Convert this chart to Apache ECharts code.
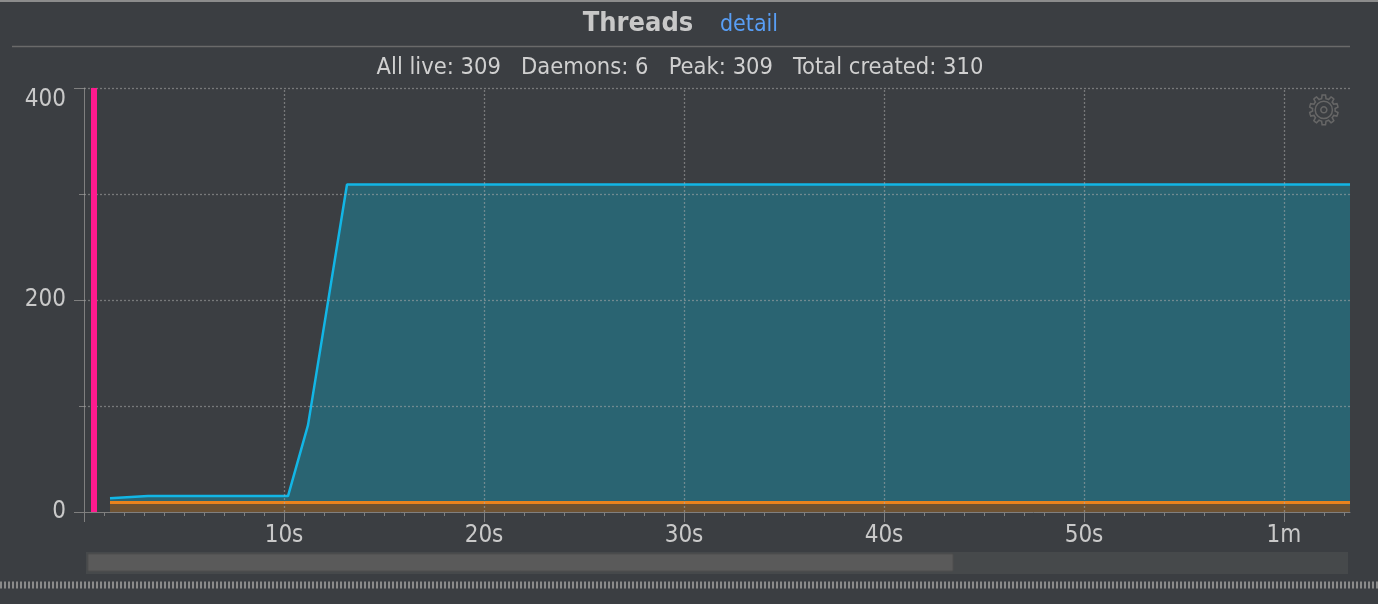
<!DOCTYPE html>
<html>
<head>
<meta charset="utf-8">
<script src="https://cdn.jsdelivr.net/npm/echarts@6/dist/echarts.min.js"></script>
<style>
html,body{margin:0;padding:0;background:#3b3e42;}
#chart{width:1378px;height:604px;}
</style>
</head>
<body>
<div id="chart"></div>
<script>
// ---- data ----
const liveTimes = [1.3, 3.2, 10.2, 11.2, 13.15, 63.3];   // seconds
const liveThreads = [13, 15, 15, 82, 309, 309];
const daemonTimes = [1.3, 63.3];
const daemonThreads = [9, 9];
const markerTime = 0.5;
const xMax = 63.3;
const xLabelValues = [10, 20, 30, 40, 50, 60];
const xLabelNames = ['10s', '20s', '30s', '40s', '50s', '1m'];
const xMinorTicks = Array.from({length: 64}, (_, i) => i);
const xMajorTicks = [0, 10, 20, 30, 40, 50, 60];
const yGridValues = [100, 200, 300, 400];
const titleText = 'Threads';
const linkText = 'detail';
const statsText = 'All live: 309   Daemons: 6   Peak: 309   Total created: 310';

const FONT = 'DejaVu Sans Condensed';
const chart = echarts.init(document.getElementById('chart'), null, {renderer: 'canvas'});

const livePairs = liveTimes.map((t, i) => [t, liveThreads[i]]);
const daemonPairs = daemonTimes.map((t, i) => [t, daemonThreads[i]]);
const labelMap = {};
xLabelValues.forEach((v, i) => labelMap[v] = xLabelNames[i]);

const axisColor = '#7f7f7f';
const gridLineStyle = {color: 'rgba(170,170,170,0.55)', width: 1.3, type: [2, 2]};

const option = {
  backgroundColor: '#3b3e42',
  animation: false,
  grid: {left: 84, right: 28, top: 88, bottom: 92, containLabel: false},
  xAxis: [{
    type: 'value', min: 0, max: xMax,
    axisLine: {show: true, lineStyle: {color: axisColor, width: 1}},
    axisTick: {show: true, length: 4, customValues: xMinorTicks, lineStyle: {color: axisColor, width: 1}},
    axisLabel: {show: true, customValues: xLabelValues, formatter: v => labelMap[Math.round(v)] || '',
      color: '#c9c9c9', fontFamily: FONT, fontSize: 24, margin: 12},
    splitLine: {show: false}
  }, {
    type: 'value', min: 0, max: xMax, position: 'bottom',
    axisLine: {show: false},
    axisTick: {show: true, length: 10, customValues: xMajorTicks, lineStyle: {color: axisColor, width: 1}},
    axisLabel: {show: false},
    splitLine: {show: false}
  }],
  yAxis: [{
    type: 'value', min: 0, max: 400, interval: 100, offset: 2,
    axisLine: {show: true, lineStyle: {color: axisColor, width: 1}},
    axisTick: {show: true, length: 5, lineStyle: {color: axisColor, width: 1}},
    axisLabel: {show: false},
    splitLine: {show: false}
  }, {
    type: 'value', min: 0, max: 400, interval: 200, offset: 2, position: 'left',
    axisLine: {show: false},
    axisTick: {show: true, length: 10, lineStyle: {color: axisColor, width: 1}},
    axisLabel: {color: '#c9c9c9', fontFamily: FONT, fontSize: 24, margin: 16,
      verticalAlignMaxLabel: 'top'},
    splitLine: {show: false}
  }],
  series: [{
    name: 'All live', type: 'line', data: livePairs, symbol: 'none', z: 2,
    lineStyle: {color: '#12b6e6', width: 2.5},
    areaStyle: {color: '#2a6472', opacity: 1}
  }, {
    name: 'Daemons', type: 'line', data: daemonPairs, symbol: 'none', z: 3,
    lineStyle: {color: '#ea831d', width: 3},
    areaStyle: {color: '#6e5232', opacity: 1}
  }, {
    name: 'grid', type: 'line', data: [], z: 5, silent: true,
    markLine: {
      silent: true, symbol: 'none', label: {show: false},
      lineStyle: gridLineStyle,
      data: xLabelValues.map(v => ({xAxis: v})).concat(yGridValues.map(v => ({yAxis: v})))
    }
  }, {
    name: 'marker', type: 'line', data: [], z: 6, silent: true,
    markLine: {
      silent: true, symbol: 'none', label: {show: false},
      lineStyle: {color: '#ff1a8e', width: 6, type: 'solid'},
      data: [{xAxis: markerTime}]
    }
  }],
  graphic: [
    {type: 'line', shape: {x1: 0, y1: 1, x2: 1378, y2: 1}, style: {stroke: '#8c8c8c', lineWidth: 2}, silent: true},
    {type: 'text', x: 638, y: 24, style: {text: titleText, font: 'bold 27px "DejaVu Sans Condensed"', fill: '#c8c8c8', textAlign: 'center', textVerticalAlign: 'middle'}},
    {type: 'text', x: 749, y: 25, style: {text: linkText, font: '23px "DejaVu Sans Condensed"', fill: '#589ef5', textAlign: 'center', textVerticalAlign: 'middle'}},
    {type: 'line', shape: {x1: 12, y1: 46.5, x2: 1350, y2: 46.5}, style: {stroke: '#6a6a6a', lineWidth: 1.5}, silent: true},
    {type: 'text', x: 680, y: 68, style: {text: statsText, font: '23.5px "DejaVu Sans Condensed"', fill: '#d0d0d0', textAlign: 'center', textVerticalAlign: 'middle'}},
    {type: 'text', x: 1324, y: 114, style: {text: '\u2699', font: '40px "DejaVu Sans"', fill: 'rgba(0,0,0,0)', stroke: '#666666', lineWidth: 1.5, textAlign: 'center', textVerticalAlign: 'middle'}},
    {type: 'rect', shape: {x: 86, y: 552, width: 1262, height: 22}, style: {fill: '#46494b'}},
    {type: 'rect', shape: {x: 88, y: 554, width: 865, height: 17, r: 1}, style: {fill: '#5a5a5a', stroke: '#4f4f4f', lineWidth: 1}},
    {type: 'line', shape: {x1: 0, y1: 585, x2: 1378, y2: 585}, style: {stroke: '#8a8a8a', lineWidth: 7, lineDash: [2, 2]}, silent: true}
  ]
};
chart.setOption(option);
</script>
</body>
</html>
